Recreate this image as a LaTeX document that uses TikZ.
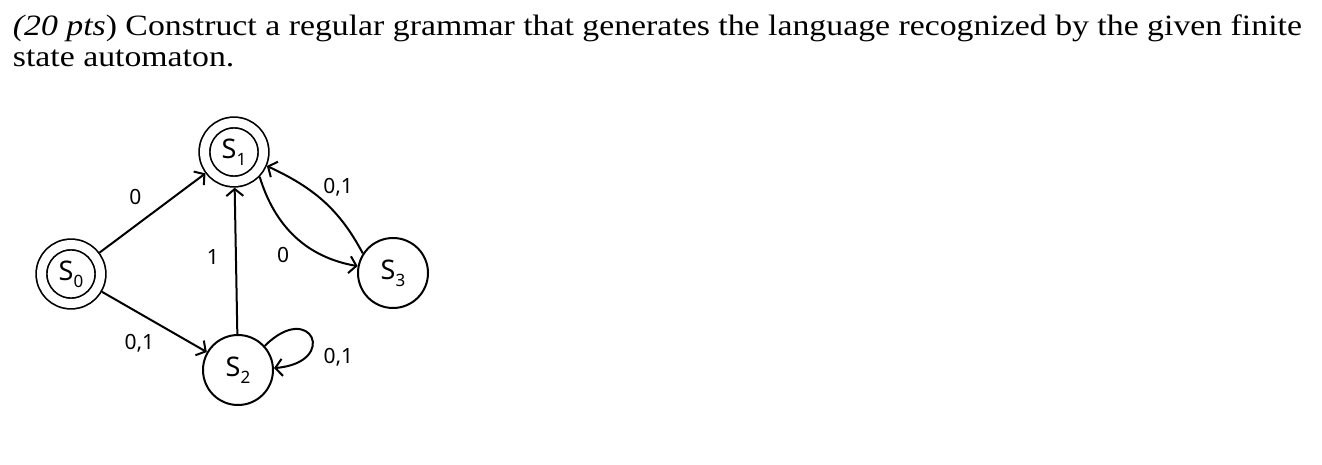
\documentclass[tikz,border=0pt]{standalone}
\usepackage{fontspec}
\setmainfont{Liberation Serif}
\newfontfamily\hand{Noto Sans}
\usetikzlibrary{arrows.meta}
\newsavebox\titlebox
\newcommand\stname[1]{S\raisebox{-7pt}{\fontsize{17}{17}\selectfont #1}}
\begin{document}
\sbox\titlebox{\fontsize{29.5}{31}\selectfont\textit{(20 pts}) Construct a regular grammar that generates the language recognized by the given finite}
\pgfmathsetmacro\titlescale{1289/\the\wd\titlebox}
\begin{tikzpicture}[x=1pt,y=1pt,
  state/.style={circle, draw, line width=2pt, minimum size=70pt, inner sep=0pt,
    font=\hand\fontsize{27}{27}\selectfont},
  accept/.style={state, line width=1.7pt, double, double distance=9pt, minimum size=59pt, outer sep=6.2pt},
  edge/.style={line width=2pt, -{Straight Barb[length=7pt,width=17pt]}},
  lbl/.style={font=\hand\fontsize{21}{21}\selectfont, inner sep=1pt},
  title/.style={anchor=base west, inner sep=0pt, font=\fontsize{29.5}{31}\selectfont}]
\useasboundingbox (0,0) rectangle (1322,-465);
\node[title] (t1) at (12.7,-36) {\scalebox{\titlescale}[1]{\usebox\titlebox}};
\node[title] (t2) at (12.7,-67) {\scalebox{\titlescale}[1]{state automaton.}};

\node[accept] (s0) at (71,-274) {\stname{0}};
\node[accept] (s1) at (234,-152) {\stname{1}};
\node[state] (s2) at (238,-370) {\stname{2}};
\node[state] (s3) at (393,-273) {\stname{3}};

\draw[edge] (s0) -- node[lbl, pos=0.5, shift={(-17pt,16pt)}] (l01) {0} (s1);
\draw[edge] (s0) -- node[lbl, pos=0.5, shift={(-15pt,-21pt)}] (l02) {0,1} (s2);
\draw[edge] (s2) -- node[lbl, pos=0.5, shift={(-23pt,4pt)}] (l21) {1} (s1);
\draw[edge] (s1.-44) to[out=-73, in=170] node[lbl, pos=0.5, shift={(-12pt,-18pt)}] (l13) {0} (s3.169);
\draw[edge] (s3.147) to[out=118, in=-25] node[lbl, pos=0.5, shift={(15pt,14pt)}] (l31) {0,1} (s1.-23);
\draw[edge] (s2.42) to[out=45,in=5,looseness=7] node[lbl, pos=0.5, shift={(27pt,-20pt)}] (l22) {0,1} (s2.3);
\end{tikzpicture}
\end{document}
